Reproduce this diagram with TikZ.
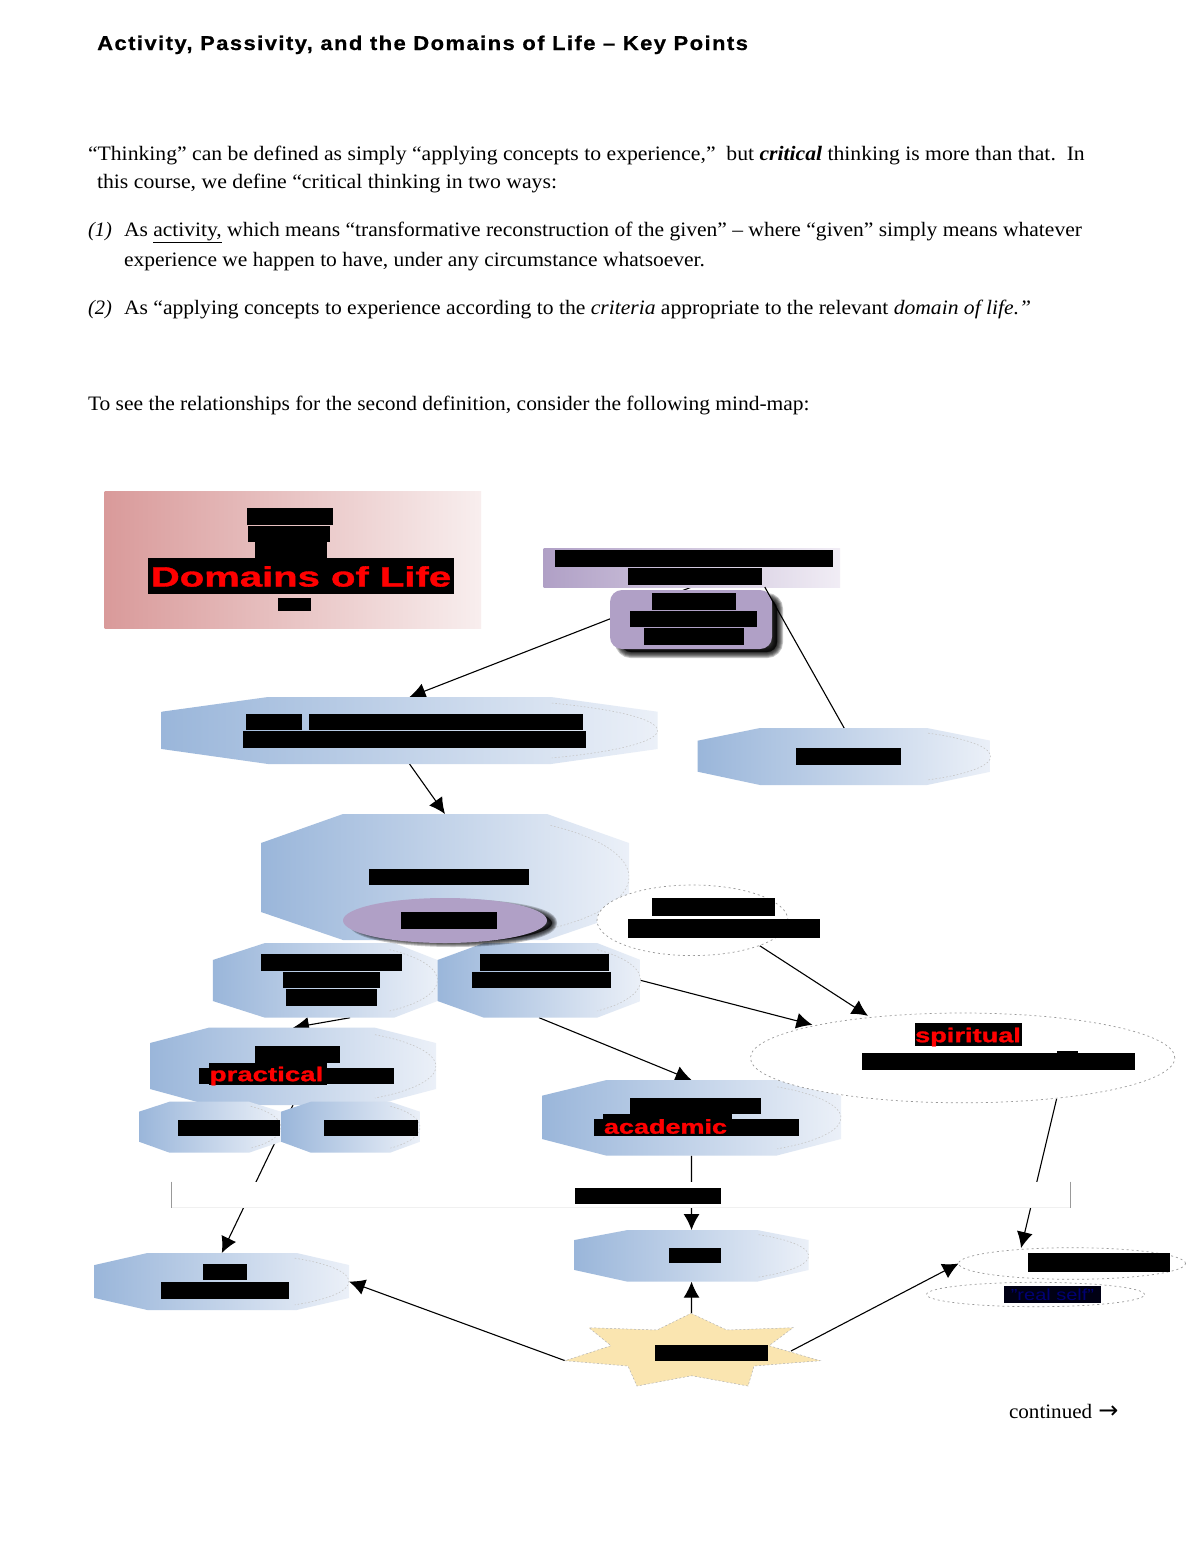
\documentclass[tikz,border=0pt]{standalone}
\usepackage{fontspec}
\setmainfont{Liberation Serif}
\setsansfont{Liberation Sans}
\newfontfamily\dvfont{DejaVu Sans}
\usetikzlibrary{arrows.meta,shapes.geometric}
\definecolor{bluel}{HTML}{9AB6DA}
\definecolor{bluer}{HTML}{EBF0F8}
\definecolor{purp}{HTML}{B0A0C6}
\definecolor{purpr}{HTML}{F1EDF5}
\definecolor{pinkl}{HTML}{D99A9A}
\definecolor{pinkr}{HTML}{F8EEEE}
\definecolor{starfill}{HTML}{FAE5B0}
\tikzset{
  hubnode/.style={rectangle,inner sep=0pt,outer sep=0pt,draw=none},
  elnode/.style={ellipse,inner sep=0pt,outer sep=0pt,draw=none},
  blueshade/.style={left color=bluel,right color=bluer},
  ellipsedots/.style={draw=black!22,line width=.6pt,dash pattern=on 1.6pt off 2pt},
  dashel/.style={fill=white,draw=black!40,line width=.7pt,dash pattern=on 2pt off 3pt},
  link/.style={draw=black,line width=1.1pt},
  linkarrow/.style={link,-{Latex[length=16pt,width=16pt]}},
  bodytext/.style={anchor=base west,inner sep=0pt,outer sep=0pt,font=\fontsize{20.5}{24}\selectfont},
  redtext/.style={text=red,inner sep=0pt,outer sep=0pt,anchor=center}
}
\newcommand{\heavy}[1]{\sffamily\bfseries\addfontfeature{FakeBold=1.2}\fontsize{#1}{#1}\selectfont}
\newcommand{\hub}[5]{\node[hubnode,minimum width={(#4-#2)*1pt},minimum height={(#5-#3)*1pt}] (#1) at ({(#2+#4)/2},{(#3+#5)/2}) {};}
\newcommand{\elhub}[5]{\node[elnode,minimum width={(#4-#2)*1pt},minimum height={(#5-#3)*1pt}] (#1) at ({(#2+#4)/2},{(#3+#5)/2}) {};}
\newcommand{\octa}[8]{%
  \path[blueshade] (#1,#7) -- (#5,#2) -- (#6,#2) -- (#3,#7) -- (#3,#8) -- (#6,#4) -- (#5,#4) -- (#1,#8) -- cycle;
  \draw[ellipsedots] ({(#1+#3)/2+(#3-#1)/2*cos(55)},{(#2+#4)/2-(#4-#2)/2*sin(55)}) arc[start angle=55,end angle=-55,x radius={(#3-#1)/2*1pt},y radius={(#4-#2)/2*1pt}];}
\newcommand{\bk}[4]{\fill[black] (#1,#2) rectangle (#3,#4);}
\begin{document}
\begin{tikzpicture}[x=1pt,y=-1pt]
\useasboundingbox (0,0) rectangle (1200,1553);
\fill[white] (0,0) rectangle (1200,1553);
% texts
\node[anchor=base west,inner sep=0pt] (title) at (97,50) {\scalebox{1.10}[1]{\sffamily\bfseries\addfontfeature{FakeBold=.6,LetterSpace=6.5}\fontsize{20}{24}\selectfont Activity, Passivity, and the Domains of Life – Key Points}};
\node[bodytext] (l1) at (88,160.5) {\scalebox{1.058}[1]{“Thinking” can be defined as simply “applying concepts to experience,”\ \ but \textbf{\textit{critical}} thinking is more than that.\ \ In}};
\node[bodytext] (l2) at (97,188.5) {\scalebox{1.062}[1]{this course, we define “critical thinking in two ways:}};
\node[bodytext] (n1) at (88,236.5) {\textit{(1)}};
\node[bodytext] (l3) at (124,236.5) {\scalebox{1.05}[1]{As \underline{activity,} which means “transformative reconstruction of the given” – where “given” simply means whatever}};
\node[bodytext] (l4) at (124,266.5) {\scalebox{1.048}[1]{experience we happen to have, under any circumstance whatsoever.}};
\node[bodytext] (n2) at (88,314.5) {\textit{(2)}};
\node[bodytext] (l5) at (124,314.5) {\scalebox{1.054}[1]{As “applying concepts to experience according to the \textit{criteria} appropriate to the relevant \textit{domain of life.”}}};
\node[bodytext] (l6) at (88,410.5) {\scalebox{1.048}[1]{To see the relationships for the second definition, consider the following mind-map:}};
\node[bodytext] (cont) at (1009,1418.5) {\scalebox{1.03}[1]{continued}\hspace{6pt}{\dvfont\fontsize{24}{24}\selectfont →}};
% named anchors
\hub{A}{543.5}{548}{840}{587}
\hub{B}{610}{590}{772}{649}
\hub{C}{161.6}{697}{657.5}{764}
\hub{D}{261}{814}{629}{940}
\hub{F}{697.6}{728}{990.7}{785}
\hub{G}{212.8}{943}{437.5}{1017.7}
\hub{H}{437.5}{943}{640.7}{1017.7}
\hub{I}{150}{1027.7}{436}{1105}
\hub{L}{94.6}{1253}{349}{1310}
\hub{M}{542}{1080}{841}{1155.7}
\hub{O}{574.5}{1230}{808.6}{1281.7}
\hub{Q}{563}{1313}{820}{1386}
\elhub{E}{597}{885}{788}{955.7}
\elhub{N}{750.4}{1013}{1174.8}{1102.7}
\elhub{P}{958.6}{1247.7}{1185.5}{1279.3}
% connectors under the shapes
\draw[linkarrow] (A.south) -- (C.north);
\draw[linkarrow] (C.south) -- (D.north);
\draw[linkarrow] ([xshift=25pt]G.south) -- (I.north);
\draw[linkarrow] (H.south) -- (M.north);
\draw[linkarrow] (H.east) -- ([shift={(-150.2,-33)}]N.center);
\draw[linkarrow] ([shift={(67.25,25.4)}]E.center) -- ([shift={(-94.6,-42)}]N.center);
\draw[linkarrow] (I.south) -- (L.north);
\draw[linkarrow] (M.south) -- (O.north);
\draw[linkarrow] ([shift={(94,41)}]N.center) -- ([shift={(-51,-15.5)}]P.center);
\draw[linkarrow] (Q.north) -- (O.south);
\draw[linkarrow] ([xshift=1.6pt,yshift=-11pt]Q.west) -- (L.east);
\draw[linkarrow] ([shift={(99.5,1.5)}]Q.center) -- (P.west);
% header
\path[left color=pinkl,right color=pinkr] (104.5,491.5) rectangle (481,628);
\bk{247}{508}{333}{525}\bk{248}{526}{330}{542}\bk{254.5}{542}{327}{558}\bk{148}{558}{454}{594}\bk{278}{598}{311}{611}
\node[redtext] (dom) at (301,576.5) {\scalebox{1.43}[1]{\heavy{28}Domains of Life}};
% top boxes
\path[left color=purp,right color=purpr] (543.5,548) rectangle (840,587);
\bk{554.6}{550}{832.7}{567}\bk{627.5}{568}{762}{584.5}
\foreach \w in {12,10,8,6,4,2}{\draw[black,fill=black,opacity=.22,line width=\w pt,rounded corners=10pt] (621,599) rectangle (777,652);}
\fill[purp,rounded corners=12pt] (610,590) rectangle (772,649);
\bk{652.4}{592.7}{735.5}{610}\bk{629.5}{611}{757}{627}\bk{643.6}{628}{744}{645}
\draw[link] ([xshift=73pt]A.south) -- (F.north);
% octagons
\octa{161.6}{697}{657.5}{764}{268}{551}{711.7}{749}
\bk{246}{714}{302}{730}\bk{309}{714}{583}{730}\bk{242.7}{731}{586}{748}
\octa{697.6}{728}{990.7}{785}{760}{927}{740.7}{771.7}
\bk{796}{748}{901}{765}
\octa{261}{814}{629}{940}{343}{547}{843}{912}
\bk{368.6}{869}{529}{885}
\octa{212.8}{943}{437.5}{1017.7}{265}{394}{960}{1001}
\bk{261}{954}{402}{971}\bk{282.5}{972}{379.7}{988}\bk{286}{989}{377}{1006}
\octa{437.5}{943}{640.7}{1017.7}{484}{597}{960}{1001}
\bk{479.6}{954}{608.6}{971}\bk{471.5}{971.7}{611}{988}
% purple ellipse with shadow
\foreach \w in {10,8,6,4,2}{\draw[black,fill=black,opacity=.22,line width=\w pt] (453,923) ellipse[x radius=99pt,y radius=19pt];}
\fill[purp] (445,920.5) ellipse[x radius=102pt,y radius=22.5pt];
\bk{400.8}{912}{497}{929}
% white dashed ellipse
\draw[dashel] (692.5,920.3) ellipse[x radius=95.5pt,y radius=35.3pt];
\bk{652.4}{897.7}{774.5}{916}\bk{628}{919}{820.4}{937.7}
% practical
\octa{150}{1027.7}{436}{1105}{208.6}{375}{1043}{1089}
\bk{255}{1046}{339.5}{1063}\bk{209}{1062.7}{326.5}{1085}\bk{199}{1068}{394}{1084}
\node[redtext] (prac) at (266.5,1076) {\scalebox{1.38}[1]{\heavy{20}practical}};
\octa{139}{1101.7}{281}{1152.7}{169.6}{249}{1111.7}{1141.7}
\bk{177.6}{1119.7}{280}{1135.7}
\octa{281}{1101.7}{420}{1152.7}{311}{390}{1111.7}{1141.7}
\bk{323.5}{1119.7}{417.6}{1135.7}
% academic
\octa{542}{1080}{841}{1155.7}{606.6}{776}{1095.7}{1139}
\bk{629.5}{1098}{761}{1113.7}\bk{602.7}{1113.7}{732}{1135.7}\bk{594.4}{1119}{799}{1135.7}
\node[redtext] (acad) at (665.5,1126.5) {\scalebox{1.35}[1]{\heavy{20}academic}};
% spiritual
\draw[dashel] (962.6,1057.9) ellipse[x radius=212.2pt,y radius=44.9pt];
\bk{914.6}{1023}{1022}{1046}\bk{861.8}{1053}{1135}{1070}\bk{1057}{1051}{1078}{1053}
\node[redtext] (spir) at (968,1037) {\scalebox{1.36}[1]{\heavy{20}spiritual}};
% band across the diagram
\fill[white] (171.5,1181.7) rectangle (1070.7,1207.7);
\draw[black!6,line width=.8pt] (171.5,1207.7) -- (1070.7,1207.7);
\draw[black!40,line width=.8pt] (171.5,1181.7) -- (171.5,1207.7);
\draw[black!40,line width=.8pt] (1070.7,1181.7) -- (1070.7,1207.7);
\bk{575}{1188}{721}{1204}
% bottom row
\octa{94.6}{1253}{349}{1310}{147.4}{296.7}{1265}{1298}
\bk{203}{1264}{247}{1280}\bk{160.8}{1282}{289.4}{1298.7}
\octa{574.5}{1230}{808.6}{1281.7}{627.7}{757}{1240}{1270}
\bk{669}{1248}{721}{1263}
% star
\path[fill=starfill,draw=black!30,line width=.5pt,dash pattern=on 2pt off 2pt] (691,1313.3) -- (726.7,1330) -- (793,1327.7) -- (769,1345.7) -- (820,1360.7) -- (754,1366) -- (748,1386) -- (691.7,1375.7) -- (637,1386) -- (628,1366) -- (565,1360.7) -- (611,1345.7) -- (589,1327.7) -- (657,1330) -- cycle;
\bk{655}{1345}{768}{1361}
% right ellipses
\draw[dashel] (1072,1263.5) ellipse[x radius=113.5pt,y radius=15.8pt];
\bk{1028}{1253}{1170}{1272}
\draw[dashel] (1035.5,1294.5) ellipse[x radius=109pt,y radius=12.2pt];
\fill[black!92!blue] (1003.7,1286) rectangle (1101.3,1303);
\node[inner sep=0pt,text=blue!45!black,font=\sffamily\fontsize{16}{18}\selectfont] (real) at (1052.5,1294.5) {\scalebox{1.25}[1]{"real self"}};
\end{tikzpicture}
\end{document}
